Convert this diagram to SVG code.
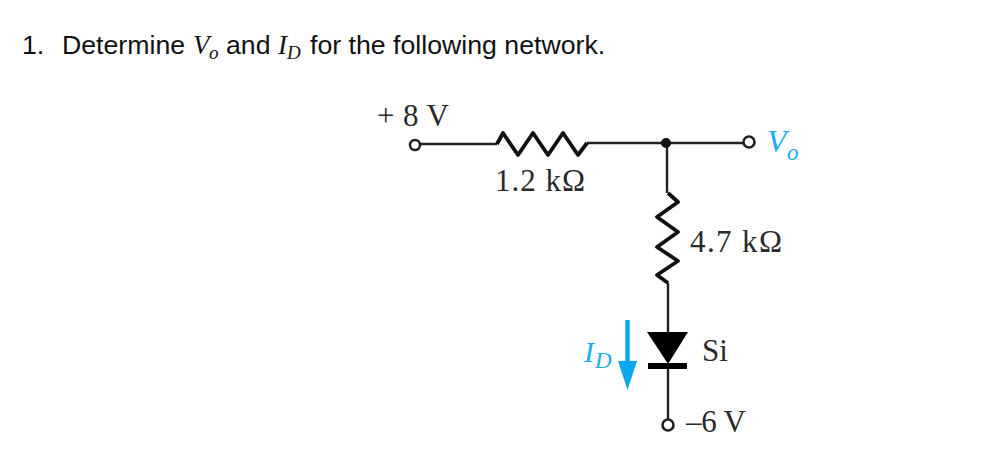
<svg xmlns="http://www.w3.org/2000/svg" width="1001" height="474" viewBox="0 0 1001 474">
<style>
.t{font-family:"Liberation Sans",Arial,sans-serif;font-size:26.700px;fill:#111}
.m{font-family:"Liberation Serif","Times New Roman",serif;font-style:italic;fill:#111}
.c{font-family:"Liberation Serif","Times New Roman",serif;font-size:31px;fill:#2a2a2a}
.b{font-family:"Liberation Serif","Times New Roman",serif;font-style:italic;fill:#1aaef0}
.w{fill:none;stroke:#222;stroke-width:2.400}
.r{fill:none;stroke:#111;stroke-width:3.800;stroke-linejoin:round}
.o{fill:#fff;stroke:#222;stroke-width:2.600}
</style>
<rect width="1001" height="474" fill="#fff"/>
<g id="title">
<text class="t" x="22" y="54">1.</text>
<text class="t" x="62" y="54">Determine</text>
<text class="m" x="193" y="54" font-size="27">V</text>
<text class="m" x="209" y="59" font-size="19">o</text>
<text class="t" x="226" y="54">and</text>
<text class="m" x="278" y="54" font-size="27">I</text>
<text class="m" x="287" y="59" font-size="19">D</text>
<text class="t" x="310" y="54">for the following network.</text>
</g>
<g id="connectors">
<path class="w" d="M420 144H497"/>
<path class="w" d="M587 143H743"/>
<path class="w" d="M667 143V193"/>
<path class="w" d="M668 283V332"/>
<path class="w" d="M668 366V419"/>
</g>
<g id="source"><circle class="o" cx="415" cy="145" r="5"/><text class="c" x="377" y="126" font-size="31" textLength="72">+ 8 V</text></g>
<g id="r1"><path class="r" d="M497 144L503 133L518 155L533 133L548 155L563 133L578 155L587 143"/><text class="c" x="495" y="191" textLength="90">1.2 kΩ</text></g>
<g id="junction"><circle cx="666" cy="143" r="5" fill="#111"/></g>
<g id="output"><circle class="o" cx="749" cy="142" r="5.500"/><text class="b" x="767" y="152" font-size="32">V</text><text class="b" x="787" y="160" font-size="23">o</text></g>
<g id="r2"><path class="r" d="M668 193L678 202L657 217L678 232L657 247L678 261L657 275L668 283"/><text class="c" x="690" y="252" textLength="92">4.7 kΩ</text></g>
<g id="diode"><path d="M647 332H688L668 364Z" fill="#000"/><rect x="648" y="363" width="39" height="6" fill="#000"/><text class="c" x="702" y="361">Si</text></g>
<g id="current"><path d="M627.500 320V364" fill="none" stroke="#0aa8ee" stroke-width="4.500"/><path d="M618 361H637L627.500 390Z" fill="#0aa8ee"/><text class="b" x="584" y="362" font-size="30">I</text><text class="b" x="595" y="368" font-size="23">D</text></g>
<g id="sink"><circle class="o" cx="668" cy="425" r="5.500"/><text class="c" x="686" y="432" textLength="60">–6 V</text></g>
</svg>
